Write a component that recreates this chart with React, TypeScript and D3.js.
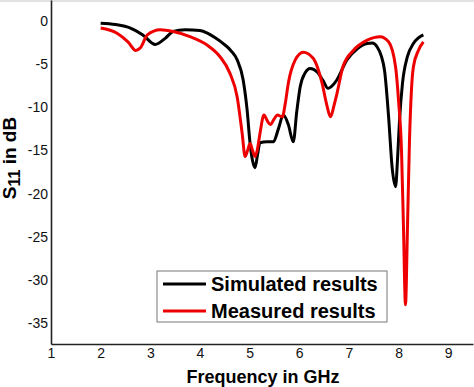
import { useRef, useEffect } from 'react';
import * as d3 from 'd3';

// simulated (black) and measured (red) S11
const simFreq = [2.0, 2.3, 2.6, 2.85, 3.1, 3.3, 3.46, 3.7, 4.0, 4.15, 4.3, 4.47, 4.62, 4.75, 4.87, 4.95, 5.01, 5.06, 5.11, 5.16, 5.21, 5.35, 5.48, 5.58, 5.68, 5.78, 5.88, 5.95, 6.02, 6.12, 6.22, 6.36, 6.48, 6.58, 6.68, 6.76, 6.96, 7.17, 7.37, 7.47, 7.57, 7.65, 7.72, 7.8, 7.87, 7.94, 7.98, 8.02, 8.08, 8.18, 8.3, 8.5];
const simS11 = [-0.25, -0.4, -0.8, -1.6, -2.7, -2.0, -1.2, -1.0, -1.1, -1.4, -1.9, -2.6, -3.4, -4.5, -6.8, -10.3, -14.2, -16.2, -17.0, -15.5, -14.1, -14.0, -14.0, -12.5, -10.9, -12.0, -14.0, -10.5, -7.6, -6.0, -5.5, -5.9, -6.9, -7.8, -7.4, -6.8, -4.5, -3.2, -2.6, -2.55, -3.0, -4.0, -5.8, -11.1, -16.9, -19.2, -16.0, -11.5, -7.2, -4.1, -2.6, -1.6];

const measFreq = [2.0, 2.33, 2.55, 2.71, 2.8, 2.94, 3.2, 3.46, 3.8, 4.15, 4.4, 4.6, 4.75, 4.85, 4.91, 4.96, 5.01, 5.06, 5.11, 5.16, 5.21, 5.29, 5.36, 5.42, 5.5, 5.56, 5.66, 5.72, 5.78, 5.92, 6.08, 6.28, 6.46, 6.55, 6.63, 6.7, 6.76, 6.88, 7.09, 7.37, 7.63, 7.8, 7.94, 8.0, 8.06, 8.1, 8.14, 8.18, 8.22, 8.26, 8.3, 8.4, 8.5];
const measS11 = [-0.8, -1.4, -2.4, -3.4, -3.1, -1.6, -1.0, -1.2, -1.8, -2.8, -4.1, -6.0, -8.8, -13.0, -15.7, -15.0, -14.2, -15.0, -15.7, -14.8, -13.0, -10.9, -11.6, -12.0, -11.3, -10.9, -11.1, -9.5, -7.2, -4.5, -3.6, -4.3, -7.2, -9.6, -11.1, -9.8, -8.4, -5.3, -3.4, -2.2, -1.8, -2.4, -5.3, -9.2, -15.0, -24.0, -32.9, -24.0, -14.0, -8.0, -5.3, -3.4, -2.4];

const xTicks = [1, 2, 3, 4, 5, 6, 7, 8, 9];
const yTicks = [0, -5, -10, -15, -20, -25, -30, -35];

const legendItems = [
  { label: 'Simulated results', color: '#000000' },
  { label: 'Measured results', color: '#ee0000' },
];

const width = 474;
const height = 387;

export default function App() {
  const svgRef = useRef<SVGSVGElement | null>(null);

  useEffect(() => {
    document.body.style.margin = '0';
    const svg = d3.select(svgRef.current);
    svg.selectAll('*').remove();
    svg.attr('width', width).attr('height', height);

    const x = d3.scaleLinear().domain([1, 9.5]).range([51, 473]);
    const y = d3.scaleLinear().domain([2.45, -37.45]).range([0, 344]);

    svg.append('rect').attr('width', width).attr('height', height).attr('fill', '#fff');
    svg.append('rect').attr('width', width).attr('height', 2).attr('fill', '#e2e2e2');

    const font = 'Liberation Sans, Arial, sans-serif';

    const xAxis = svg
      .append('g')
      .attr('transform', `translate(0,${y(-37.45)})`)
      .call(d3.axisBottom(x).tickValues(xTicks).tickSize(0).tickSizeOuter(0).tickPadding(4).tickFormat((d) => String(d)));
    xAxis.select('.domain').attr('stroke', '#222').attr('stroke-width', 1.6);
    xAxis.selectAll('text').attr('font-family', font).attr('font-size', 14).attr('fill', '#111');

    const yAxis = svg
      .append('g')
      .attr('transform', `translate(${x(1)},0)`)
      .call(d3.axisLeft(y).tickValues(yTicks).tickSize(0).tickSizeOuter(0).tickPadding(3).tickFormat((d) => String(d)));
    yAxis.select('.domain').attr('stroke', '#222').attr('stroke-width', 1.6);
    yAxis.selectAll('text').attr('font-family', font).attr('font-size', 14).attr('fill', '#111');

    const line = d3
      .line<[number, number]>()
      .x((d) => x(d[0]))
      .y((d) => y(d[1]))
      .curve(d3.curveMonotoneX);

    svg
      .append('path')
      .datum(d3.zip(simFreq, simS11) as [number, number][])
      .attr('d', line)
      .attr('fill', 'none')
      .attr('stroke', '#000')
      .attr('stroke-width', 3);

    svg
      .append('path')
      .datum(d3.zip(measFreq, measS11) as [number, number][])
      .attr('d', line)
      .attr('fill', 'none')
      .attr('stroke', '#ee0000')
      .attr('stroke-width', 3);

    // axis titles
    svg
      .append('text')
      .attr('x', 263)
      .attr('y', 383)
      .attr('text-anchor', 'middle')
      .attr('font-family', font)
      .attr('font-weight', 'bold')
      .attr('font-size', 18)
      .text('Frequency in GHz');

    const yt = svg
      .append('text')
      .attr('transform', 'translate(16,158) rotate(-90)')
      .attr('text-anchor', 'middle')
      .attr('font-family', font)
      .attr('font-weight', 'bold')
      .attr('font-size', 19);
    yt.append('tspan').text('S');
    yt.append('tspan').attr('font-size', 16).attr('dy', 4).text('11');
    yt.append('tspan').attr('dy', -4).text(' in dB');

    // legend
    const lg = svg.append('g');
    lg.append('rect')
      .attr('x', 157)
      .attr('y', 271)
      .attr('width', 230)
      .attr('height', 51)
      .attr('fill', '#fff')
      .attr('stroke', '#777')
      .attr('stroke-width', 1);
    legendItems.forEach((it, i) => {
      const cy = 284 + i * 27;
      lg.append('line')
        .attr('x1', 163)
        .attr('x2', 206)
        .attr('y1', cy)
        .attr('y2', cy)
        .attr('stroke', it.color)
        .attr('stroke-width', 3);
      lg.append('text')
        .attr('x', 211)
        .attr('y', cy + 7)
        .attr('font-family', font)
        .attr('font-weight', 'bold')
        .attr('font-size', 20)
        .text(it.label);
    });
  }, []);

  return (
    <div>
      <svg ref={svgRef} />
    </div>
  );
}
